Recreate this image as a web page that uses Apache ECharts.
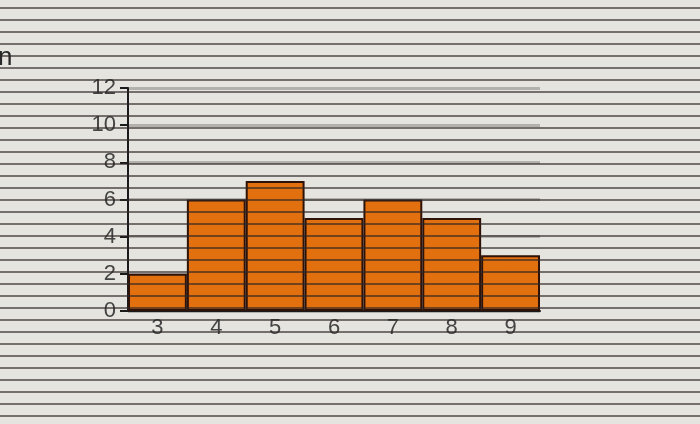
<!DOCTYPE html>
<html>
<head>
<meta charset="utf-8">
<script src="https://cdn.jsdelivr.net/npm/echarts@6/dist/echarts.min.js"></script>
<style>
  html, body { margin: 0; padding: 0; width: 700px; height: 424px; overflow: hidden; background: #e6e4df; }
  #wrap { position: relative; width: 700px; height: 424px; }
  #chart { position: absolute; left: 0; top: 0; width: 700px; height: 424px; }
  #lines {
    position: absolute; left: 0; top: 0; width: 700px; height: 424px; pointer-events: none;
    background: repeating-linear-gradient(to bottom,
      rgba(0,0,0,0) 0px, rgba(0,0,0,0) 7px,
      rgba(45,38,38,0.62) 7px, rgba(45,38,38,0.62) 9px,
      rgba(0,0,0,0) 9px, rgba(0,0,0,0) 12px);
  }
</style>
</head>
<body>
<div id="wrap">
  <div id="chart"></div>
  <div id="lines"></div>
</div>
<script>
const categories = ['3', '4', '5', '6', '7', '8', '9'];
const counts = [2, 6, 7, 5, 6, 5, 3];
const yTicks = [0, 2, 4, 6, 8, 10, 12];

const chart = echarts.init(document.getElementById('chart'), null, { renderer: 'canvas' });
chart.setOption({
  animation: false,
  backgroundColor: 'transparent',
  title: {
    text: 'n', left: -7, top: 40,
    textStyle: { fontFamily: 'Liberation Sans', fontSize: 26, fontWeight: 'normal', color: '#2a2a2a' }
  },
  grid: { left: 128, right: 160, top: 88, bottom: 113 },
  xAxis: {
    type: 'category',
    data: categories,
    boundaryGap: true,
    axisLine: { show: true, lineStyle: { color: '#1a1a1a', width: 2 } },
    axisTick: { show: false },
    axisLabel: { margin: 6, fontFamily: 'Liberation Sans', fontSize: 22, color: '#444444' }
  },
  yAxis: {
    type: 'value',
    min: yTicks[0],
    max: yTicks[yTicks.length - 1],
    interval: 2,
    axisLine: { show: true, lineStyle: { color: '#1a1a1a', width: 2 } },
    axisTick: { show: true, length: 8, lineStyle: { color: '#1a1a1a', width: 2 } },
    axisLabel: { margin: 12, fontFamily: 'Liberation Sans', fontSize: 22, color: '#444444' },
    splitLine: { show: true, lineStyle: { color: '#b3b1ac', width: 3 } }
  },
  series: [{
    type: 'bar',
    data: counts,
    barCategoryGap: '0%',
    itemStyle: { color: '#e3700f', borderColor: '#2e1208', borderWidth: 2 }
  }]
});
</script>
</body>
</html>
